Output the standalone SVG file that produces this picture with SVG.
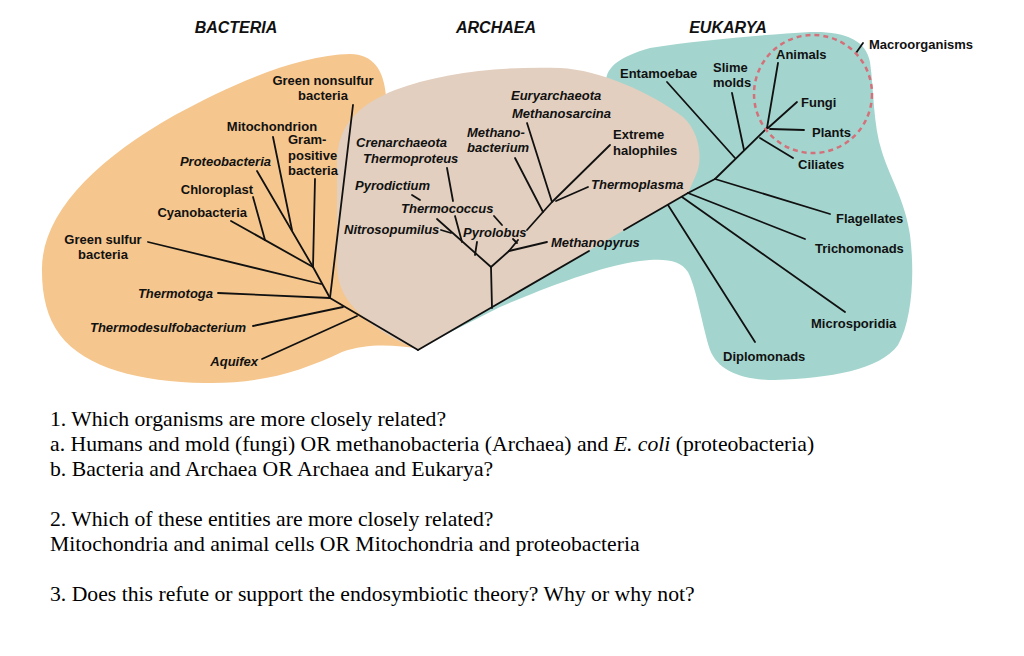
<svg xmlns="http://www.w3.org/2000/svg" width="1024" height="656" viewBox="0 0 1024 656">
<style>
.lbl{font-family:"Liberation Sans",Arial,sans-serif;font-size:13px;font-weight:bold;fill:#111}
.it{font-style:italic}
.hdr{font-family:"Liberation Sans",Arial,sans-serif;font-size:16px;font-weight:bold;font-style:italic;fill:#111}
.q{font-family:"Liberation Serif","Times New Roman",serif;font-size:21.7px;fill:#000}
.br{stroke:#111;stroke-width:1.8;fill:none;stroke-linecap:round;stroke-linejoin:round}
</style>
<rect width="1024" height="656" fill="#fff"/>
<g id="regions">
<path id="bacteria-region" fill="#f5c68d" d="M42,272 C40,215 95,160 175,115 C235,82 300,55 350,54 C373,54 384,70 386,96 L395,320 L420,349 C395,345 368,343 342,352 C300,372 260,384 205,383 C140,382 85,368 60,335 C47,318 42,295 42,272 Z"/>
<path id="eukarya-region" fill="#a3d5ce" d="M606,82 C606,66 622,56 650,48 C700,40 760,35 810,32 C845,31 866,40 870,62 C874,90 873,125 882,152 C890,178 905,200 910,235 C915,275 912,320 898,345 C880,370 830,378 775,380 C740,380 718,370 710,350 C702,325 697,290 688,272 C680,260 665,258 640,261 C600,266 540,290 500,307 L433,341 L600,200 Z"/>
<path id="archaea-region" fill="#e2cfbf" d="M418,350 C400,342 375,330 358,312 C342,296 337,282 337,262 L337,160 C338,125 358,105 395,90 C440,73 500,66 560,68 C600,70 650,92 683,117 C700,132 703,160 696,175 L688,193 Z"/>
</g>
<g id="headers">
<text class="hdr" x="236" y="33" text-anchor="middle">BACTERIA</text>
<text class="hdr" x="496" y="33" text-anchor="middle">ARCHAEA</text>
<text class="hdr" x="728" y="33" text-anchor="middle">EUKARYA</text>
</g>
<g id="connectors" class="br">
<path d="M418,350 L330,298"/>
<path d="M357,316 L262,359"/>
<path d="M343,307 L253,326"/>
<path d="M330,298 L218,293"/>
<path d="M330,298 L353,105"/>
<path d="M330,298 L313,267"/>
<path d="M148,242 L321,284"/>
<path d="M315,179 L313,267"/>
<path d="M257,171 L313,267"/>
<path d="M273,137 L292,230"/>
<path d="M231,221 L313,267"/>
<path d="M253,197 L265,240"/>
<path d="M418,350 L589,251"/>
<path d="M624,230 L688,193"/>
<path d="M492,308 L491,267"/>
<path d="M491,267 L437,219"/>
<path d="M447,168 L453,201"/>
<path d="M455,216 L462,242"/>
<path d="M441,230 L451,233"/>
<path d="M477,242 L475,255"/>
<path d="M412,195 L420,200"/>
<path d="M494,216 L502,225"/>
<path d="M491,267 L509,251 L518,240"/>
<path d="M527,230 L543,212 L552,202 L610,145"/>
<path d="M509,251 L547,242"/>
<path d="M513,239 L517,243"/>
<path d="M515,158 L543,212"/>
<path d="M527,123 L552,202"/>
<path d="M588,187 L556,201"/>
<path d="M688,193 L715,179"/>
<path d="M715,179 L830,214"/>
<path d="M688,193 L805,239"/>
<path d="M682,197 L845,312"/>
<path d="M668,205 L755,342"/>
<path d="M715,179 L767,128"/>
<path d="M667,82 L735,158"/>
<path d="M732,93 L744,150"/>
<path d="M760,138 L793,158"/>
<path d="M778,63 L767,128"/>
<path d="M797,102 L768,128"/>
<path d="M804,130 L770,129"/>
<path d="M856,53 L863,43"/>
</g>
<g id="macroorganisms">
<circle cx="813" cy="94" r="59" fill="none" stroke="#d4707a" stroke-width="2.5" stroke-dasharray="5 4"/>
<text class="lbl" x="869" y="49">Macroorganisms</text>
</g>
<g id="green-nonsulfur"><text class="lbl" x="323" y="85" text-anchor="middle">Green nonsulfur</text><text class="lbl" x="323" y="100" text-anchor="middle">bacteria</text></g>
<g id="mitochondrion"><text class="lbl" x="272" y="131" text-anchor="middle">Mitochondrion</text></g>
<g id="gram-positive"><text class="lbl" x="288" y="144">Gram-</text><text class="lbl" x="288" y="160">positive</text><text class="lbl" x="288" y="175">bacteria</text></g>
<g id="proteobacteria"><text class="lbl it" x="271" y="166" text-anchor="end">Proteobacteria</text></g>
<g id="chloroplast"><text class="lbl" x="253" y="194" text-anchor="end">Chloroplast</text></g>
<g id="cyanobacteria"><text class="lbl" x="247" y="217" text-anchor="end">Cyanobacteria</text></g>
<g id="green-sulfur"><text class="lbl" x="103" y="244" text-anchor="middle">Green sulfur</text><text class="lbl" x="103" y="259" text-anchor="middle">bacteria</text></g>
<g id="thermotoga"><text class="lbl it" x="213" y="298" text-anchor="end">Thermotoga</text></g>
<g id="thermodesulfobacterium"><text class="lbl it" x="246" y="332" text-anchor="end">Thermodesulfobacterium</text></g>
<g id="aquifex"><text class="lbl it" x="258" y="366" text-anchor="end">Aquifex</text></g>
<g id="euryarchaeota"><text class="lbl it" x="511" y="100">Euryarchaeota</text></g>
<g id="methanosarcina"><text class="lbl it" x="512" y="118">Methanosarcina</text></g>
<g id="methanobacterium"><text class="lbl it" x="467" y="137">Methano-</text><text class="lbl it" x="467" y="152">bacterium</text></g>
<g id="crenarchaeota"><text class="lbl it" x="356" y="147">Crenarchaeota</text></g>
<g id="thermoproteus"><text class="lbl it" x="363" y="163">Thermoproteus</text></g>
<g id="extreme-halophiles"><text class="lbl" x="613" y="139">Extreme</text><text class="lbl" x="613" y="155">halophiles</text></g>
<g id="pyrodictium"><text class="lbl it" x="355" y="190">Pyrodictium</text></g>
<g id="thermoplasma"><text class="lbl it" x="591" y="189">Thermoplasma</text></g>
<g id="thermococcus"><text class="lbl it" x="401" y="213">Thermococcus</text></g>
<g id="nitrosopumilus"><text class="lbl it" x="344" y="234">Nitrosopumilus</text></g>
<g id="pyrolobus"><text class="lbl it" x="463" y="237">Pyrolobus</text></g>
<g id="methanopyrus"><text class="lbl it" x="551" y="247">Methanopyrus</text></g>
<g id="entamoebae"><text class="lbl" x="620" y="78">Entamoebae</text></g>
<g id="slime-molds"><text class="lbl" x="713" y="72">Slime</text><text class="lbl" x="713" y="87">molds</text></g>
<g id="animals"><text class="lbl" x="776" y="59">Animals</text></g>
<g id="fungi"><text class="lbl" x="801" y="107">Fungi</text></g>
<g id="plants"><text class="lbl" x="812" y="137">Plants</text></g>
<g id="ciliates"><text class="lbl" x="798" y="169">Ciliates</text></g>
<g id="flagellates"><text class="lbl" x="836" y="223">Flagellates</text></g>
<g id="trichomonads"><text class="lbl" x="815" y="253">Trichomonads</text></g>
<g id="microsporidia"><text class="lbl" x="811" y="328">Microsporidia</text></g>
<g id="diplomonads"><text class="lbl" x="723" y="361">Diplomonads</text></g>
<g id="questions">
<text class="q" x="50" y="426">1. Which organisms are more closely related?</text>
<text class="q" x="50" y="451">a. Humans and mold (fungi) OR methanobacteria (Archaea) and <tspan font-style="italic">E. coli</tspan> (proteobacteria)</text>
<text class="q" x="50" y="476">b. Bacteria and Archaea OR Archaea and Eukarya?</text>
<text class="q" x="50" y="526">2. Which of these entities are more closely related?</text>
<text class="q" x="50" y="551">Mitochondria and animal cells OR Mitochondria and proteobacteria</text>
<text class="q" x="50" y="601">3. Does this refute or support the endosymbiotic theory? Why or why not?</text>
</g>
</svg>
